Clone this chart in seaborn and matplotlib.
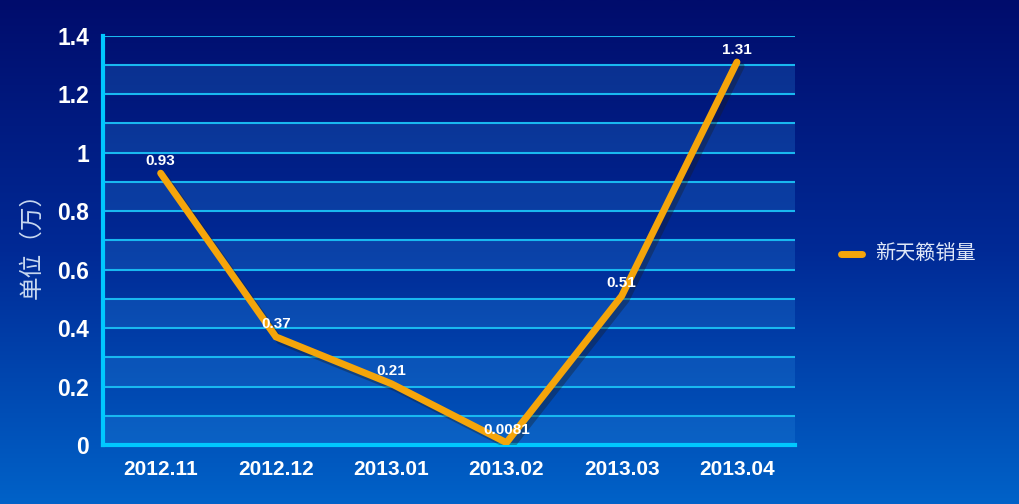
import matplotlib
matplotlib.use("Agg")
import matplotlib.pyplot as plt
import matplotlib.patheffects as pe
import numpy as np
import pandas as pd
import seaborn as sns

months = ["2012.11", "2012.12", "2013.01", "2013.02", "2013.03", "2013.04"]
sales = [0.93, 0.37, 0.21, 0.0081, 0.51, 1.31]
sales_labels = ["0.93", "0.37", "0.21", "0.0081", "0.51", "1.31"]
y_ticks = [0, 0.2, 0.4, 0.6, 0.8, 1, 1.2, 1.4]
y_tick_labels = ["0", "0.2", "0.4", "0.6", "0.8", "1", "1.2", "1.4"]
series_name = "新天籁销量"

df = pd.DataFrame({"pos": range(len(months)), "sales": sales})

sns.set_theme(style="white")
plt.rcParams["font.family"] = ["Liberation Sans", "Noto Sans CJK SC", "DejaVu Sans"]

fig = plt.figure(figsize=(10.2, 5.04), dpi=100)

# background gradient
bg = fig.add_axes([0, 0, 1, 1], zorder=0)
grad = np.linspace(0, 1, 256).reshape(-1, 1)
cmap = matplotlib.colors.LinearSegmentedColormap.from_list(
    "bg", ["#000c6c", "#002a96", "#0062c8"])
bg.imshow(grad, aspect="auto", cmap=cmap, extent=[0, 1, 0, 1], origin="upper")
bg.set_axis_off()

ax = fig.add_axes([0.101, 0.117, 0.678, 0.812], zorder=1)
ax.patch.set_alpha(0)

# alternating bands
for lo in np.arange(0, 1.4, 0.2):
    ax.axhspan(lo, lo + 0.1, color="#2a8ae0", alpha=0.25, lw=0, zorder=0)
for g in np.arange(0.1, 1.41, 0.1):
    ax.axhline(g, color="#19b8f0", lw=1.5, zorder=1)

sns.lineplot(data=df, x="pos", y="sales", ax=ax, color="#f5a50a", lw=5,
             solid_joinstyle="miter", zorder=3, legend=False,
             path_effects=[pe.SimpleLineShadow(offset=(3, -3), alpha=0.35),
                           pe.Normal()])

for i, (v, t) in enumerate(zip(sales, sales_labels)):
    ax.annotate(t, (i, v), xytext=(0, 4), textcoords="offset points",
                ha="center", va="bottom", color="white", fontsize=11,
                fontweight="bold", zorder=4)

ax.set_xlim(-0.5, len(months) - 0.5)
ax.set_ylim(0, 1.4)
ax.set_yticks(y_ticks)
ax.set_yticklabels(y_tick_labels)
ax.set_xticks(range(len(months)))
ax.set_xticklabels(months)
ax.set_xticks(np.arange(-0.5, len(months)), minor=True)
ax.tick_params(axis="x", which="major", length=0, pad=11, labelsize=15,
               labelcolor="white")
ax.tick_params(axis="x", which="minor", length=7, width=3, color="#00c8ff",
               direction="out")
ax.tick_params(axis="y", length=7, width=3, color="#00c8ff", pad=3,
               labelsize=16.5, labelcolor="white")
for lab in ax.get_xticklabels() + ax.get_yticklabels():
    lab.set_fontweight("bold")

for s in ["top", "right"]:
    ax.spines[s].set_visible(False)
for s in ["left", "bottom"]:
    ax.spines[s].set_color("#00c8ff")
    ax.spines[s].set_linewidth(3)

ax.set_xlabel("")
ax.set_ylabel("单位（万）", color="#c8d8f0", fontsize=17,
              family=["Noto Sans CJK SC", "DejaVu Sans"], labelpad=10)

# legend
fig.lines.append(matplotlib.lines.Line2D([0.825, 0.845], [0.497, 0.497],
                                         transform=fig.transFigure,
                                         color="#f5a50a", lw=5,
                                         solid_capstyle="round"))
fig.text(0.858, 0.497, series_name, color="#e0e8f8", fontsize=14.5, va="center",
         family=["Noto Sans CJK SC", "DejaVu Sans"])

fig.savefig("out.png", dpi=100)
